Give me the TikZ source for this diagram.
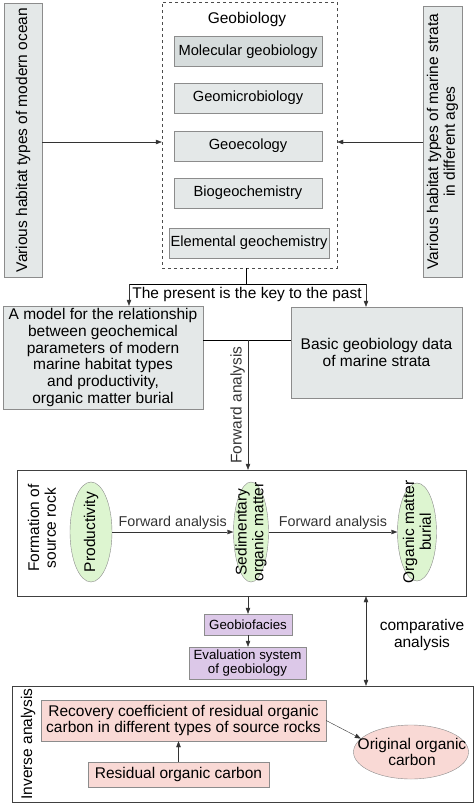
\documentclass[tikz,border=0pt]{standalone}
\usepackage{fontspec}
\setmainfont{Liberation Sans}
\usepackage{tikz}
\usetikzlibrary{shapes.geometric, arrows.meta, positioning, calc}
\usepackage{xcolor}
\definecolor{boxgray}{HTML}{E4E8E8}
\definecolor{boxgrayd}{HTML}{D6DCDC}
\definecolor{edgegray}{HTML}{8C8C8C}
\definecolor{cellgreen}{HTML}{DDF5D0}
\definecolor{cellpink}{HTML}{F9D9D5}
\definecolor{cellpurple}{HTML}{DCC8E8}

\begin{document}
\begin{tikzpicture}[
    x=1pt, y=-1pt,
    font=\fontsize{15.5}{16.7}\selectfont,
    box/.style={rectangle, draw=edgegray, fill=boxgray, inner sep=1pt, align=center},
    sub/.style={box, minimum width=148pt, minimum height=30pt, font=\fontsize{14.7}{16}\selectfont},
    frame/.style={rectangle, draw=black!75, fill=white, inner sep=0pt},
    cell/.style={ellipse, draw=edgegray, fill=cellgreen, inner sep=0pt},
    pinkbox/.style={box, fill=cellpink},
    purplebox/.style={box, fill=cellpurple, font=\fontsize{13.3}{14.5}\selectfont},
    arr/.style={-{Triangle[length=6pt, width=4.5pt]}, black!80},
    darr/.style={{Triangle[length=6pt, width=4.5pt]}-{Triangle[length=6pt, width=4.5pt]}, black!80},
    vtext/.style={rotate=90, align=center, inner sep=0pt},
]
\useasboundingbox (0,0) rectangle (474,804);

% Habitats
\node[box, rotate=90, minimum width=274pt, minimum height=38pt] (ocean) at (23,140) {Various habitat types of modern ocean};
\node[box, rotate=90, minimum width=271pt, minimum height=39pt] (strata) at (442.5,141.5) {Various habitat types of marine strata\\in different ages};

% Geobiology
\node[frame, draw=black!70, dashed, minimum width=175pt, minimum height=266pt] (geo) at (249.5,135) {};
\node (geotitle) at (247,19) {Geobiology};
\node[sub, fill=boxgrayd] (molec) at (248,51.5) {Molecular geobiology};
\node[sub] (micro) at (248,98) {Geomicrobiology};
\node[sub] (ecol) at (248,146) {Geoecology};
\node[sub] (biogeo) at (248,193) {Biogeochemistry};
\node[sub, minimum width=160pt] (elem) at (249,243) {Elemental geochemistry};

\draw[arr] (ocean.south |- 0,142) -- (geo.west |- 0,142);
\draw[arr] (strata.north |- 0,142) -- (geo.east |- 0,142);

% The present is the key to the past
\node[box, minimum width=200pt, minimum height=103pt] (model) at (103,357.5) {A model for the relationship\\between geochemical\\parameters of modern\\marine habitat types\\and productivity,\\organic matter burial};
\node[box, minimum width=171pt, minimum height=91pt] (basic) at (376.5,352.5) {Basic geobiology data\\of marine strata};

\coordinate (split) at (246,284);
\coordinate (splitL) at (129,284);
\coordinate (splitR) at (366,284);
\draw (geo.south -| split) -- (split);
\draw (splitL) -- (splitR);
\draw[arr] (splitL) -- (splitL |- model.north);
\draw[arr] (splitR) -- (splitR |- basic.north);
\node (key) at (247,294) {The present is the key to the past};

% Formation of source rock
\node[frame, minimum width=449pt, minimum height=126pt] (form) at (241.5,533) {};
\node[vtext] (formtitle) at (42,528) {Formation of\\source rock};

\node[cell, minimum width=42pt, minimum height=100pt] (prod) at (91,532) {};
\node[vtext] (prodtxt) at (prod) {Productivity};
\node[cell, minimum width=35pt, minimum height=100pt] (sed) at (251,532) {};
\node[vtext] (sedtxt) at (sed) {Sedimentary\\organic matter};
\node[cell, minimum width=39pt, minimum height=98pt] (burial) at (417,532) {};
\node[vtext] (burialtxt) at (burial) {Organic matter\\burial};

\draw[arr] (prod.east) -- node[above, font=\fontsize{14.3}{15}\selectfont, inner sep=2pt] {Forward analysis} (sed.west);
\draw[arr] (sed.east) -- node[above, font=\fontsize{14.3}{15}\selectfont, inner sep=2pt] {Forward analysis} (burial.west);

\coordinate (join) at (248,340);
\draw (join -| model.east) -- (join -| basic.west);
\draw[arr] (join) -- node[midway, rotate=90, anchor=south, inner sep=3pt] {Forward analysis} (join |- form.north);

% Geobiofacies
\node[purplebox, minimum width=88pt, minimum height=21pt] (facies) at (248,624.5) {Geobiofacies};
\node[purplebox, minimum width=117pt, minimum height=32pt] (evalsys) at (247.5,663) {Evaluation system\\of geobiology};
\draw[arr] (form.south -| facies) -- (facies.north);
\draw[arr] (facies.south) -- (evalsys.north -| facies);

% Inverse analysis
\node[frame, minimum width=461pt, minimum height=116pt] (inv) at (242.5,744) {};
\node[vtext] (invtitle) at (28,744) {Inverse analysis};
\node[pinkbox, minimum width=285pt, minimum height=41pt] (recov) at (183.5,720.5) {Recovery coefficient of residual organic\\carbon in different types of source rocks};
\node[pinkbox, minimum width=181pt, minimum height=25pt] (resid) at (178.5,774.5) {Residual organic carbon};
\node[ellipse, draw=edgegray, fill=cellpink, minimum width=115pt, minimum height=54pt, inner sep=0pt] (orig) at (411,752) {};
\node[align=center, inner sep=0pt] (origtxt) at (412,752) {Original organic\\carbon};
\draw[arr] (resid.north) -- (resid.north |- recov.south);
\draw[arr] (recov.east) -- (orig.165);

% Comparative analysis
\coordinate (cmp) at (366,0);
\draw[darr] (cmp |- form.south) -- (cmp |- inv.north);
\node[align=center] (cmptxt) at (422,635) {comparative\\analysis};

\end{tikzpicture}
\end{document}
